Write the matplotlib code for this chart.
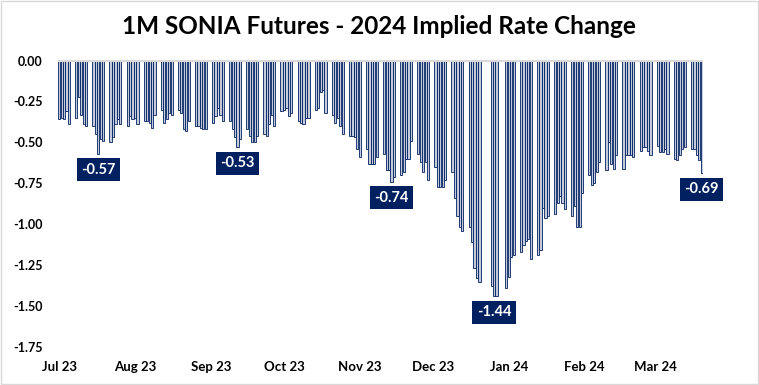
import numpy as np
import pandas as pd
import matplotlib
matplotlib.use("Agg")
import matplotlib.pyplot as plt
from matplotlib.patches import Rectangle

plt.rcParams['font.family'] = ['Lato', 'DejaVu Sans']

# Variacion implicita de tasa 2024 (puntos porcentuales), un valor por dia habil
rate_change = [
    -0.36, -0.35, -0.36, -0.31, -0.39,
    -0.35, -0.22, -0.33, -0.39, -0.40,
    -0.40, -0.45, -0.57, -0.48, -0.49,
    -0.50, -0.47, -0.39, -0.36, -0.39,
    -0.40, -0.34, -0.36, -0.35, -0.39,
    -0.37, -0.37, -0.38, -0.41, -0.33,
    -0.30, -0.38, -0.36, -0.32, -0.33,
    -0.30, -0.32, -0.42, -0.43, -0.37,
    -0.40, -0.40, -0.41, -0.42, -0.42,
    -0.38, -0.34, -0.29, -0.33, -0.37,
    -0.37, -0.42, -0.47, -0.53, -0.48,
    -0.42, -0.46, -0.50, -0.50, -0.46,
    -0.45, -0.46, -0.39, -0.33, -0.40,
    -0.31, -0.30, -0.29, -0.34, -0.32,
    -0.37, -0.38, -0.39, -0.35, -0.35,
    -0.30, -0.29, -0.19, -0.18, -0.32,
    -0.33, -0.38, -0.35, -0.40, -0.45,
    -0.46, -0.46, -0.47, -0.54, -0.59,
    -0.54, -0.63, -0.63, -0.63, -0.59,
    -0.57, -0.67, -0.67, -0.74, -0.71,
    -0.70, -0.68, -0.60, -0.60, -0.49,
    -0.57, -0.62, -0.68, -0.62, -0.73,
    -0.65, -0.77, -0.77, -0.77, -0.73,
    -0.68, -0.84, -0.95, -1.02, -1.04,
    -1.02, -1.11, -1.27, -1.33, -1.35,
    -1.38, -1.44, -1.44,
    -1.39, -1.32, -1.20, -1.19,
    -1.17, -1.13, -1.10, -1.09, -1.21,
    -1.19, -1.16, -0.90, -0.96, -0.95,
    -0.94, -0.87, -0.83, -0.87, -0.91,
    -0.95, -0.89, -1.02, -1.02, -0.81,
    -0.70, -0.76, -0.75, -0.68, -0.62,
    -0.67, -0.50, -0.63, -0.66, -0.58,
    -0.66, -0.58, -0.58, -0.58, -0.59,
    -0.55, -0.53, -0.53, -0.55, -0.58,
    -0.52, -0.56, -0.56, -0.54, -0.57,
    -0.60, -0.61, -0.58, -0.54, -0.53,
    -0.54, -0.54, -0.58, -0.61, -0.69,
]

# Dias habiles (sin festivos de Navidad y Año Nuevo)
holidays = ['2023-12-25', '2023-12-26', '2024-01-01']
dates = pd.bdate_range('2023-07-03', '2024-03-22')
dates = dates[~dates.isin(pd.to_datetime(holidays))]

# Etiquetas del eje X (una por mes, desde la primera fecha)
month_labels = ['Jul 23', 'Aug 23', 'Sep 23', 'Oct 23', 'Nov 23',
                'Dec 23', 'Jan 24', 'Feb 24', 'Mar 24']
month_label_dates = pd.date_range('2023-07-03', periods=9, freq=pd.DateOffset(months=1))

# Barras con etiqueta de valor
label_dates = ['2023-07-19', '2023-09-14', '2023-11-16', '2023-12-28', '2024-03-22']

start = dates[0]
x = np.array((dates - start).days)
y = np.array(rate_change)
tick_x = np.array((month_label_dates - start).days)

fig = plt.figure(figsize=(7.59, 3.85), dpi=100)
ax = fig.add_axes([58 / 759, 1 - 347 / 385, (703 - 58) / 759, (347 - 60.5) / 385])

ax.bar(x, y, width=0.9, color='#C3CAD9', edgecolor='#002060', linewidth=0.6)
ax.hlines(0, -0.5, x[-1] + 0.5, color='#D9D9D9', linewidth=1.5, zorder=3, clip_on=False)

for d in label_dates:
    xd = (pd.Timestamp(d) - start).days
    v = y[x == xd][0]
    ax.annotate(f'{v:.2f}', xy=(xd, v), xytext=(0, -16), textcoords='offset pixels',
                ha='center', va='center', color='white', fontsize=10.5, fontweight='bold',
                bbox=dict(boxstyle='square,pad=0.3', fc='#002060', ec='none'))

ax.set_xlim(-0.5, x[-1] + 0.5)
ax.set_ylim(-1.75, 0)
ax.set_yticks(np.arange(-1.75, 0.01, 0.25))
ax.set_yticklabels([f'{t:.2f}' for t in np.arange(-1.75, 0.01, 0.25)])
ax.set_xticks(tick_x)
ax.set_xticklabels(month_labels)
ax.tick_params(axis='y', length=0, pad=10.8, labelsize=9)
ax.tick_params(axis='x', length=0, pad=10, labelsize=9.5)
for lab in ax.get_xticklabels() + ax.get_yticklabels():
    lab.set_fontweight('bold')
for s in ax.spines.values():
    s.set_visible(False)

fig.suptitle('1M SONIA Futures - 2024 Implied Rate Change', x=0.499, y=0.93,
             fontsize=17.5, fontweight='bold', va='center')
fig.patches.append(Rectangle((0.0007, 0.0013), 0.9986, 0.9974, transform=fig.transFigure,
                             fill=False, edgecolor='#D9D9D9', linewidth=1))

fig.savefig('out.png', dpi=100)
